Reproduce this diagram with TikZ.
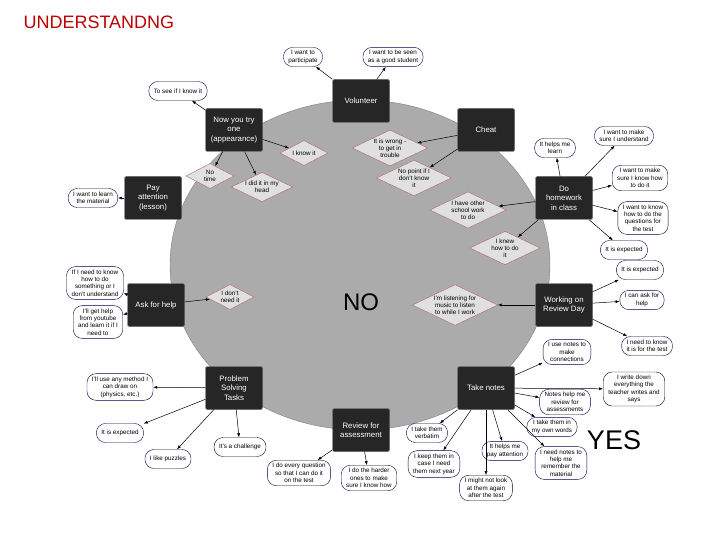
\documentclass[tikz,border=0pt]{standalone}
\usepackage{fontspec}
\setmainfont{Liberation Sans}
\usetikzlibrary{shapes.geometric,arrows.meta}
\begin{document}
\begin{tikzpicture}[x=1pt,y=-1pt,
 box/.style={fill=black!85,draw=black!60,rounded corners=1.5pt,text=white,minimum width=57pt,minimum height=43pt,align=center,font=\fontsize{7.8}{9.4}\selectfont},
 dia/.style={diamond,aspect=2.1,fill=black!12,draw=red!50!black!60,align=center,font=\fontsize{6.3}{7.2}\selectfont,inner sep=0.5pt,minimum height=25pt,minimum width=48pt},
 ell/.style={rounded corners=9pt,fill=white,draw=blue!30!black,align=center,font=\fontsize{6.3}{7.4}\selectfont,inner xsep=5pt,inner ysep=3pt,minimum height=19pt},
 ar/.style={-{Latex[length=4pt,width=3pt]},black,line width=0.5pt}]
\useasboundingbox (0,0) rectangle (720,540);
\fill[black!33,draw=black!50] (360,265) ellipse [x radius=190,y radius=165];
\node[text=red!75!black,font=\fontsize{18}{21}\selectfont,anchor=west] (title) at (20,22) {UNDERSTANDNG};
\node[font=\fontsize{24}{27}\selectfont] (no) at (361,302) {NO};
\node[font=\fontsize{27}{30}\selectfont] (yes) at (614,440) {YES};
% boxes
\node[box] (vol) at (361,101) {Volunteer};
\node[box] (now) at (234,130) {Now you try\\one\\(appearance)};
\node[box] (cheat) at (486,130) {Cheat};
\node[box] (pay) at (153,198) {Pay\\attention\\(lesson)};
\node[box] (hw) at (564,198) {Do\\homework\\in class};
\node[box] (ask) at (156,305) {Ask for help};
\node[box] (work) at (564,305) {Working on\\Review Day};
\node[box] (prob) at (234,388) {Problem\\Solving\\Tasks};
\node[box] (notes) at (486,388) {Take notes};
\node[box] (rev) at (361,430) {Review for\\assessment};
% diamonds
\node[dia] (wrong) at (390,148) {It is wrong -\\to get in\\trouble};
\node[dia] (know) at (304,153) {I know it};
\node[dia] (notime) at (210,176) {No\\time};
\node[dia] (head) at (262,187) {I did it in my\\head};
\node[dia] (nopoint) at (414,178) {No point if I\\don't know\\it};
\node[dia] (other) at (468,210) {I have other\\school work\\to do};
\node[dia] (knew) at (505,248) {I knew\\how to do\\it};
\node[dia] (need) at (230,297) {I don't\\need it};
\node[dia] (music) at (455,305) {I'm listening for\\music to listen\\to while I work};
% ellipses
\node[ell] (e1) at (303,57) {I want to\\participate};
\node[ell] (e2) at (393,57) {I want to be seen\\as a good student};
\node[ell] (e3) at (178,91) {To see if I know it};
\node[ell] (e4) at (93,198) {I want to learn\\the material};
\node[ell] (e5) at (555,148) {It helps me\\learn};
\node[ell] (e6) at (624,136) {I want to make\\sure I understand};
\node[ell] (e7) at (640,178) {I want to make\\sure I know how\\to do it};
\node[ell] (e8) at (643,218) {I want to know\\how to do the\\questions for\\the test};
\node[ell] (e9) at (624,250) {It is expected};
\node[ell] (e10) at (640,270) {It is expected};
\node[ell] (e11) at (642,300) {I can ask for\\help};
\node[ell] (e12) at (647,346) {I need to know\\it is for the test};
\node[ell] (e13) at (95,283) {If I need to know\\how to do\\something or I\\don't understand};
\node[ell] (e14) at (98,322) {I'll get help\\from youtube\\and learn it if I\\need to};
\node[ell] (e15) at (120,387) {I'll use any method I\\can draw on\\(physics, etc.)};
\node[ell] (e16) at (120,433) {It is expected};
\node[ell] (e17) at (168,459) {I like puzzles};
\node[ell] (e18) at (240,447) {It's a challenge};
\node[ell] (e19) at (299,473) {I do every question\\so that I can do it\\on the test};
\node[ell] (e20) at (369,478) {I do the harder\\ones to make\\sure I know how};
\node[ell] (e21) at (567,352) {I use notes to\\make\\connections};
\node[ell] (e22) at (634,389) {I write down\\everything the\\teacher writes and\\says};
\node[ell] (e23) at (565,402) {Notes help me\\review for\\assessments};
\node[ell] (e24) at (427,433) {I take them\\verbatim};
\node[ell] (e25) at (434,464) {I keep them in\\case I need\\them next year};
\node[ell] (e26) at (552,427) {I take them in\\my own words};
\node[ell] (e27) at (505,451) {It helps me\\pay attention};
\node[ell] (e28) at (561,463) {I need notes to\\help me\\remember the\\material};
\node[ell] (e29) at (486,488) {I might not look\\at them again\\after the test};
% edges
\foreach \a/\b in {vol/e1,vol/e2,now/e3,now/notime,now/head,now/know,cheat/wrong,cheat/nopoint,pay/e4,
 hw/e5,hw/e6,hw/e7,hw/e8,hw/e9,hw/other,hw/knew,work/e10,work/e11,work/e12,work/music,
 ask/e13,ask/e14,ask/need,prob/e15,prob/e16,prob/e17,prob/e18,rev/e19,rev/e20,
 notes/e21,notes/e22,notes/e23,notes/e24,notes/e25,notes/e26,notes/e27,notes/e28,notes/e29}
 \draw[ar] (\a) -- (\b);
\end{tikzpicture}
\end{document}
